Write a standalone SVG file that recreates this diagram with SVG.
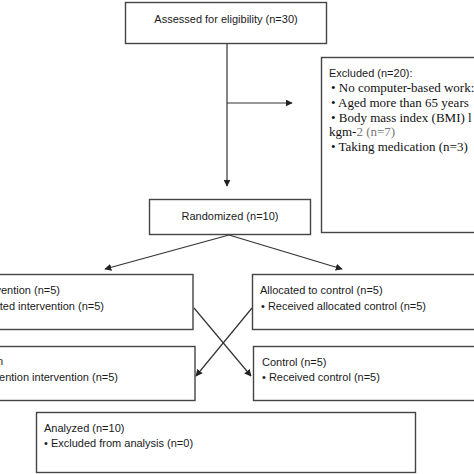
<svg xmlns="http://www.w3.org/2000/svg" width="474" height="474" viewBox="0 0 474 474">
<defs>
<style>
.box{fill:#fff;stroke:#444;stroke-width:1.4}
.s{font-family:"Liberation Sans",Arial,sans-serif;font-size:11px;fill:#1a1a1a}
.t{font-family:"Liberation Serif","Times New Roman",serif;font-size:13px;fill:#111}
.g{fill:#777}
.ln{stroke:#333;stroke-width:1.2;fill:none}
</style>
<marker id="ah" viewBox="0 0 10 10" refX="9" refY="5" markerWidth="7" markerHeight="7" markerUnits="userSpaceOnUse" orient="auto">
<path d="M0,0 L10,5 L0,10 z" fill="#222"/>
</marker>
</defs>
<rect width="474" height="474" fill="#fff"/>
<g id="connectors">
<line class="ln" x1="227" y1="44" x2="227" y2="186" marker-end="url(#ah)"/>
<line class="ln" x1="227" y1="103" x2="292" y2="103" marker-end="url(#ah)"/>
<line class="ln" x1="229" y1="235" x2="105" y2="269" marker-end="url(#ah)"/>
<line class="ln" x1="229" y1="235" x2="342" y2="269" marker-end="url(#ah)"/>
<line class="ln" x1="194" y1="308" x2="251" y2="376" marker-end="url(#ah)"/>
<line class="ln" x1="252" y1="308" x2="196" y2="376" marker-end="url(#ah)"/>
</g>
<g id="assessed">
<rect class="box" x="125.5" y="2.5" width="201" height="41"/>
<text class="s" x="226" y="23" text-anchor="middle">Assessed for eligibility (n=30)</text>
</g>
<g id="excluded">
<rect class="box" x="321.5" y="57.5" width="160" height="175"/>
<text class="s" x="329" y="77">Excluded (n=20):</text>
<text class="t" x="331" y="92">• No computer-based work:</text>
<text class="t" x="331" y="107">• Aged more than 65 years</text>
<text class="t" x="331" y="122">• Body mass index (BMI) l</text>
<text class="t" x="329" y="136">kgm-<tspan class="g">2 (n=7)</tspan></text>
<text class="t" x="331" y="151">• Taking medication (n=3)</text>
</g>
<g id="randomized">
<rect class="box" x="149.5" y="199.5" width="161" height="35"/>
<text class="s" x="230" y="220" text-anchor="middle">Randomized (n=10)</text>
</g>
<g id="alloc-intervention">
<rect class="box" x="-20" y="274.5" width="213" height="55"/>
<text class="s" x="60" y="294" text-anchor="end">Allocated to intervention (n=5)</text>
<text class="s" x="104" y="310" text-anchor="end">• Received allocated intervention (n=5)</text>
</g>
<g id="alloc-control">
<rect class="box" x="252.5" y="274.5" width="240" height="55"/>
<text class="s" x="260" y="294">Allocated to control (n=5)</text>
<text class="s" x="261" y="310">• Received allocated control (n=5)</text>
</g>
<g id="intervention">
<rect class="box" x="-20" y="346.5" width="215" height="54"/>
<text class="s" x="3" y="365" text-anchor="end">Intervention</text>
<text class="s" x="118" y="381" text-anchor="end">• Received intervention intervention (n=5)</text>
</g>
<g id="control">
<rect class="box" x="253.5" y="346.5" width="240" height="54"/>
<text class="s" x="262" y="366">Control (n=5)</text>
<text class="s" x="262" y="381">• Received control (n=5)</text>
</g>
<g id="analyzed">
<rect class="box" x="36.5" y="412.5" width="379" height="60"/>
<text class="s" x="44" y="432">Analyzed (n=10)</text>
<text class="s" x="44" y="447">• Excluded from analysis (n=0)</text>
</g>
</svg>
